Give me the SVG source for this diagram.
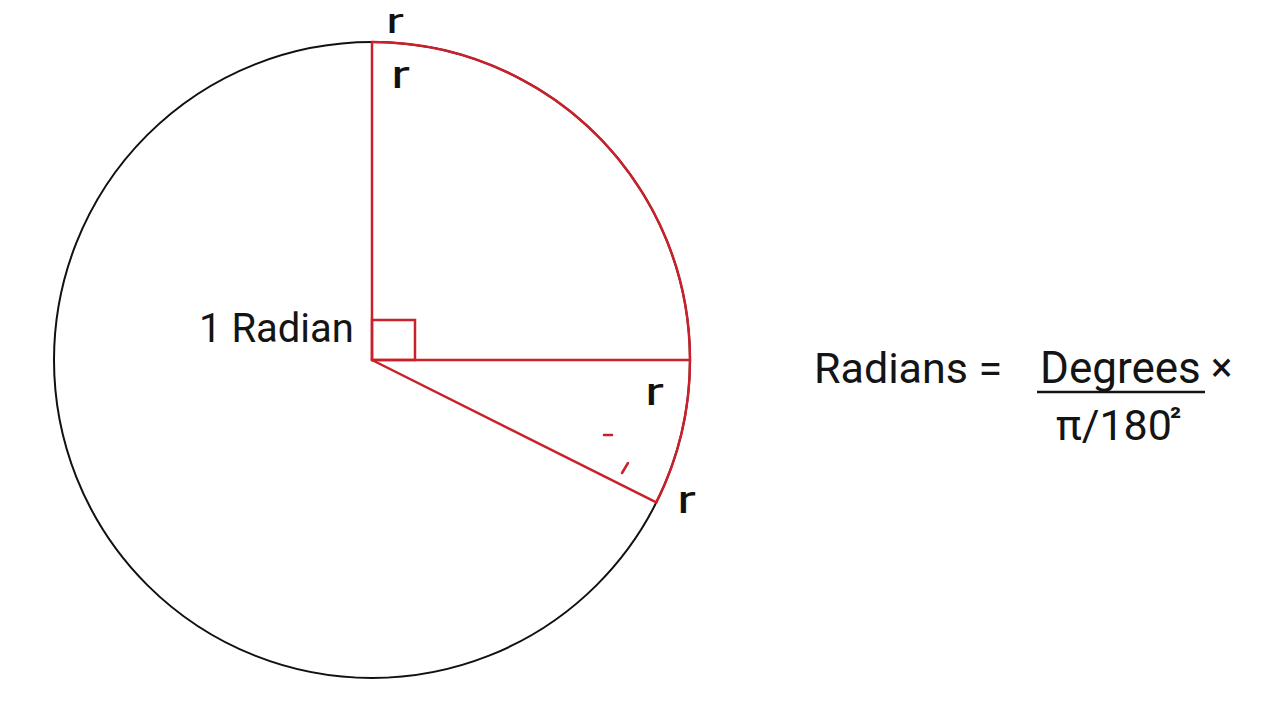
<svg xmlns="http://www.w3.org/2000/svg" width="1280" height="720" viewBox="0 0 1280 720">
<style>
.red{stroke:#c9202b;stroke-width:2.5;fill:none;stroke-linecap:round}
.blk{stroke:#111;stroke-width:2;fill:none}
.t{font-family:Roboto,"Liberation Sans",sans-serif;fill:#141414}
.r{font-family:Roboto,"Liberation Sans",sans-serif;font-size:38px;font-weight:400;fill:#111}
</style>
<rect width="1280" height="720" fill="#fff"/>
<g id="circle">
<circle cx="372" cy="360" r="318" class="blk"/>
</g>
<g id="connectors">
<path d="M372 42 A318 318 0 0 1 656.3 502.4" class="red"/>
<line x1="372" y1="42" x2="372" y2="360" class="red"/>
<line x1="372" y1="360" x2="690" y2="360" class="red"/>
<line x1="372" y1="360" x2="656.3" y2="502.4" class="red"/>
<rect x="372" y="320" width="43" height="40" class="red"/>
<line x1="604" y1="435" x2="612" y2="435" class="red" stroke-width="2"/>
<line x1="622" y1="473" x2="628" y2="463" class="red" stroke-width="2"/>
</g>
<g id="labels">
<text class="r" x="386" y="33" font-size="35" style="font-size:35px" textLength="18" lengthAdjust="spacingAndGlyphs">r</text>
<text class="r" x="391" y="88" textLength="19" lengthAdjust="spacingAndGlyphs">r</text>
<text class="r" x="645" y="405" textLength="19" lengthAdjust="spacingAndGlyphs">r</text>
<text class="r" x="677" y="513" textLength="19" lengthAdjust="spacingAndGlyphs">r</text>
<text class="t" x="199" y="342" font-size="40">1 Radian</text>
</g>
<g id="formula">
<text class="t" x="814" y="383" font-size="43">Radians =</text>
<text class="t" x="1040" y="383" font-size="44">Degrees</text>
<text class="t" x="1211" y="381" font-size="40">×</text>
<line x1="1037" y1="392" x2="1205" y2="392" stroke="#141414" stroke-width="2.5"/>
<text class="t" x="1056" y="440" font-size="43">π/180</text>
<text class="t" x="1170" y="428" font-size="30" font-weight="700">²</text>
</g>
</svg>
